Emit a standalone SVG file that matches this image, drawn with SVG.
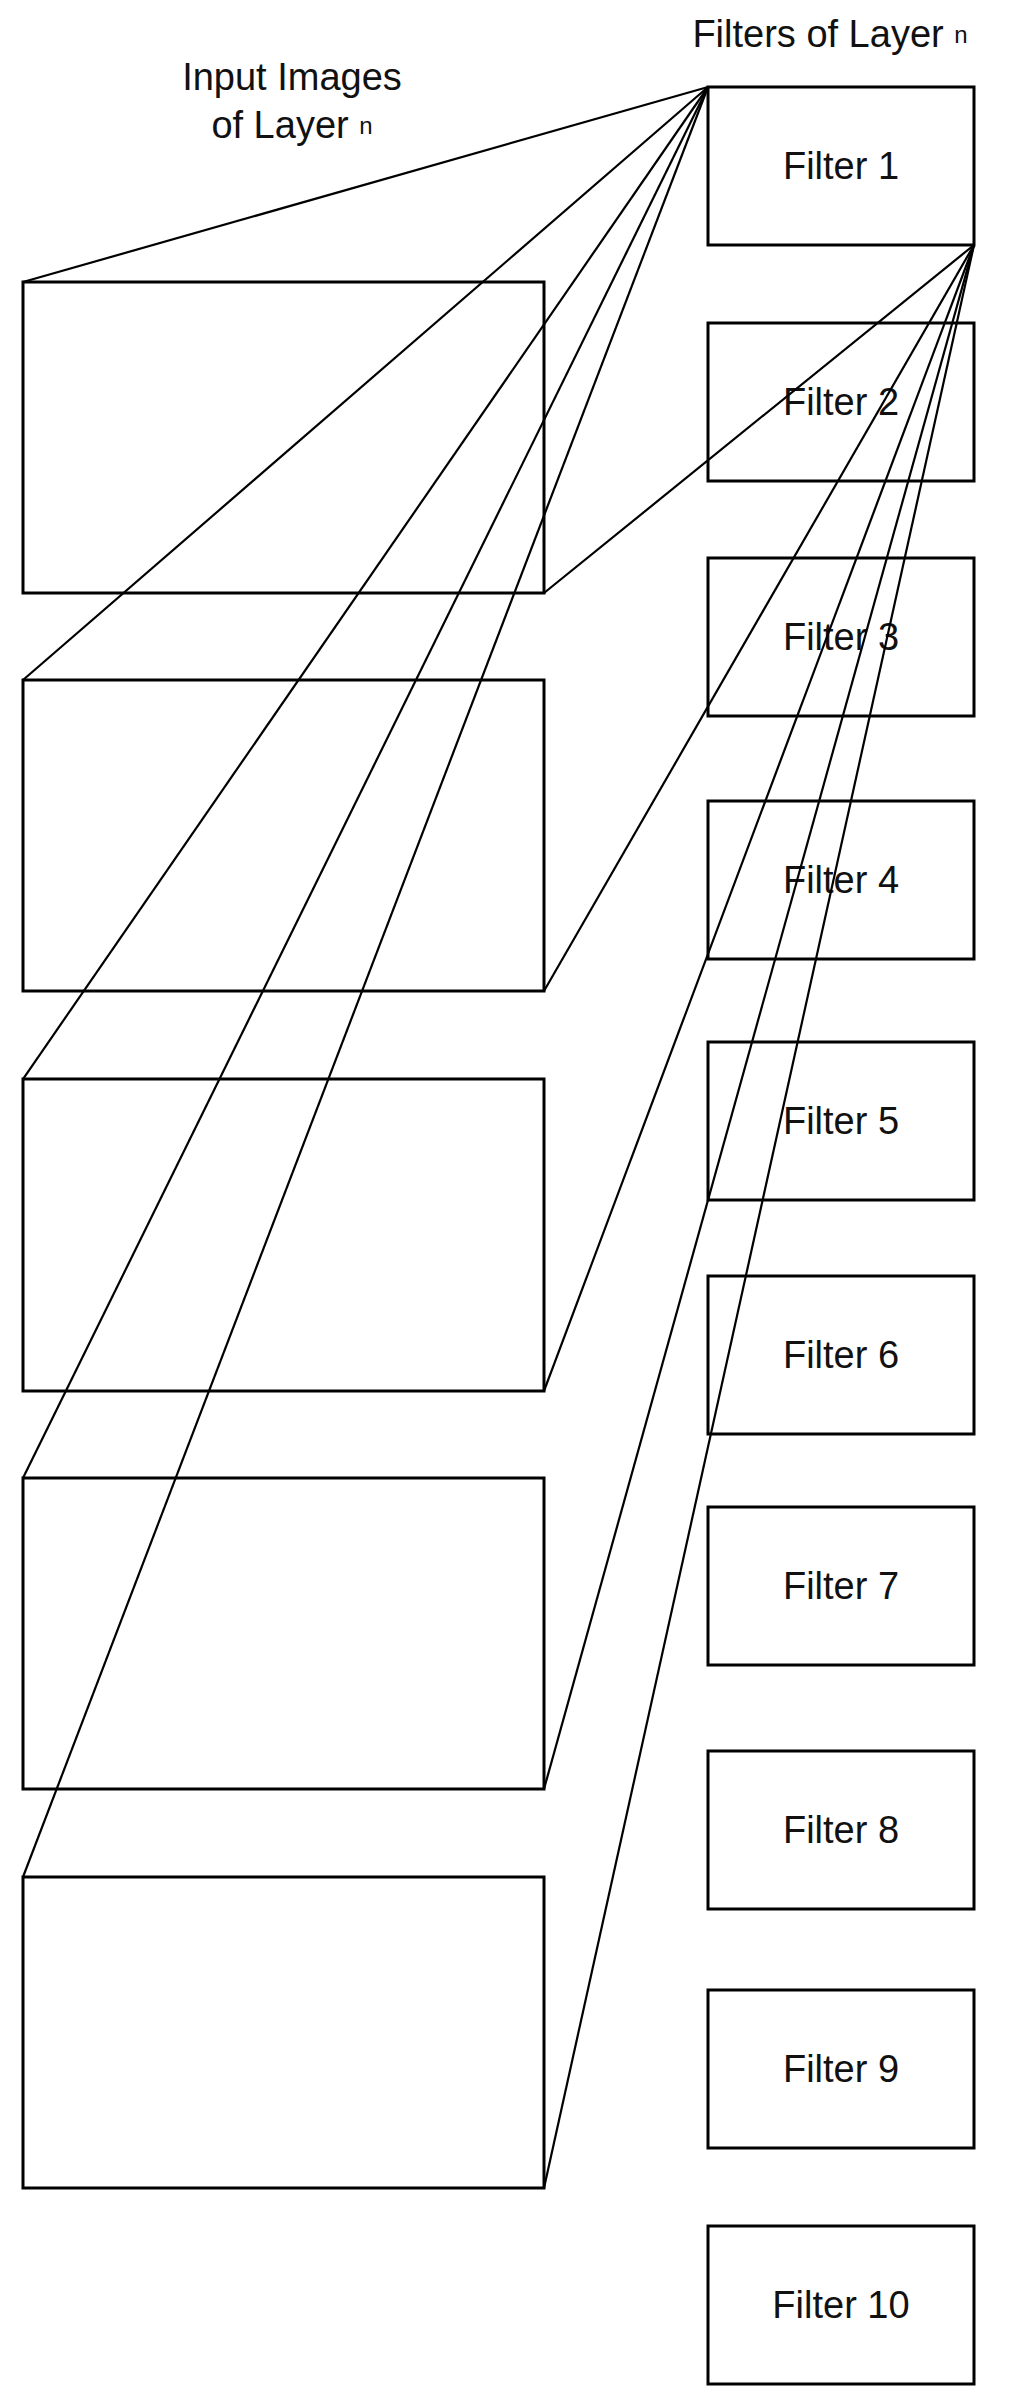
<svg xmlns="http://www.w3.org/2000/svg" width="1011" height="2396" viewBox="0 0 1011 2396">
<style>
rect{fill:#fff;stroke:#000;stroke-width:3}
line{stroke:#000;stroke-width:2.2}
text{font-family:"Liberation Sans",Arial,sans-serif;font-size:38px;fill:#111;text-anchor:middle;dominant-baseline:central}
.sub{font-size:24px}
</style>
<rect width="1011" height="2396" style="fill:#fff;stroke:none"/>
<g id="labels">
<text x="830" y="34">Filters of Layer <tspan class="sub">n</tspan></text>
<text x="292" y="77">Input Images</text>
<text x="292" y="125">of Layer <tspan class="sub">n</tspan></text>
</g>
<g id="inputs">
<g id="in1"><rect x="23" y="282" width="521" height="311"/></g>
<g id="in2"><rect x="23" y="680" width="521" height="311"/></g>
<g id="in3"><rect x="23" y="1079" width="521" height="312"/></g>
<g id="in4"><rect x="23" y="1478" width="521" height="311"/></g>
<g id="in5"><rect x="23" y="1877" width="521" height="311"/></g>
</g>
<g id="filters">
<g id="f1"><rect x="708" y="87" width="266" height="158"/><text x="841" y="166">Filter 1</text></g>
<g id="f2"><rect x="708" y="323" width="266" height="158"/><text x="841" y="402">Filter 2</text></g>
<g id="f3"><rect x="708" y="558" width="266" height="158"/><text x="841" y="637">Filter 3</text></g>
<g id="f4"><rect x="708" y="801" width="266" height="158"/><text x="841" y="880">Filter 4</text></g>
<g id="f5"><rect x="708" y="1042" width="266" height="158"/><text x="841" y="1121">Filter 5</text></g>
<g id="f6"><rect x="708" y="1276" width="266" height="158"/><text x="841" y="1355">Filter 6</text></g>
<g id="f7"><rect x="708" y="1507" width="266" height="158"/><text x="841" y="1586">Filter 7</text></g>
<g id="f8"><rect x="708" y="1751" width="266" height="158"/><text x="841" y="1830">Filter 8</text></g>
<g id="f9"><rect x="708" y="1990" width="266" height="158"/><text x="841" y="2069">Filter 9</text></g>
<g id="f10"><rect x="708" y="2226" width="266" height="158"/><text x="841" y="2305">Filter 10</text></g>
</g>
<g id="connectors">
<line x1="708" y1="87" x2="23" y2="282"/>
<line x1="708" y1="87" x2="23" y2="680"/>
<line x1="708" y1="87" x2="23" y2="1079"/>
<line x1="708" y1="87" x2="23" y2="1478"/>
<line x1="708" y1="87" x2="23" y2="1877"/>
<line x1="974" y1="245" x2="544" y2="593"/>
<line x1="974" y1="245" x2="544" y2="991"/>
<line x1="974" y1="245" x2="544" y2="1391"/>
<line x1="974" y1="245" x2="544" y2="1789"/>
<line x1="974" y1="245" x2="544" y2="2188"/>
</g>
</svg>
